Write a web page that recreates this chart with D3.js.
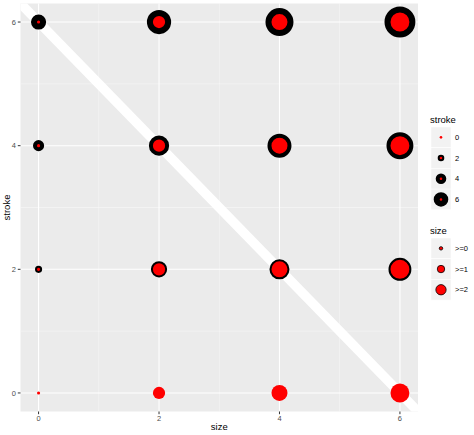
<!DOCTYPE html>
<html>
<head>
<meta charset="utf-8">
<script src="https://cdn.jsdelivr.net/npm/d3@7"></script>
<style>
  body { margin: 0; background: #fff; }
  text { font-family: "Liberation Sans", Arial, sans-serif; }
</style>
</head>
<body>
<svg id="chart" width="474" height="435"></svg>
<script>
// values on each axis (size on x, stroke on y)
var sizes = [0, 2, 4, 6];
var strokes = [0, 2, 4, 6];
var ticks = [0, 2, 4, 6];
// legends
var strokeKeys = [0, 2, 4, 6];
var sizeKeyLabels = [">=0", ">=1", ">=2"];
var sizeKeyValues = [0.05, 1.1, 2.7];
// reference line: y = 6 - x
var lineIntercept = 6, lineSlope = -1;

var svg = d3.select("#chart");
var W = 474, H = 435;
var panel = {left: 20.5, right: 418, top: 3.5, bottom: 411.5};

var x = d3.scaleLinear().domain([-0.3, 6.3]).range([panel.left, panel.right]);
var y = d3.scaleLinear().domain([-0.3, 6.3]).range([panel.bottom, panel.top]);
// area scale like ggplot scale_size (range 1..6), then to pixels
var sizeScale = d3.scaleSqrt().domain([0, 6]).range([1, 6]);
var px = 3.15;

svg.append("defs").append("clipPath").attr("id", "clip")
  .append("rect")
  .attr("x", panel.left).attr("y", panel.top)
  .attr("width", panel.right - panel.left).attr("height", panel.bottom - panel.top);

// panel background
svg.append("rect")
  .attr("x", panel.left).attr("y", panel.top)
  .attr("width", panel.right - panel.left).attr("height", panel.bottom - panel.top)
  .attr("fill", "#ebebeb");

var grid = svg.append("g");
var minor = [1, 3, 5];
grid.selectAll(".vmin").data(minor).enter().append("line")
  .attr("x1", d => x(d)).attr("x2", d => x(d))
  .attr("y1", panel.top).attr("y2", panel.bottom)
  .attr("stroke", "#fff").attr("stroke-width", 0.5).attr("opacity", 0.8);
grid.selectAll(".hmin").data(minor).enter().append("line")
  .attr("y1", d => y(d)).attr("y2", d => y(d))
  .attr("x1", panel.left).attr("x2", panel.right)
  .attr("stroke", "#fff").attr("stroke-width", 0.5).attr("opacity", 0.8);
grid.selectAll(".vmaj").data(ticks).enter().append("line")
  .attr("x1", d => x(d)).attr("x2", d => x(d))
  .attr("y1", panel.top).attr("y2", panel.bottom)
  .attr("stroke", "#fff").attr("stroke-width", 1.1);
grid.selectAll(".hmaj").data(ticks).enter().append("line")
  .attr("y1", d => y(d)).attr("y2", d => y(d))
  .attr("x1", panel.left).attr("x2", panel.right)
  .attr("stroke", "#fff").attr("stroke-width", 1.1);

// abline
svg.append("line")
  .attr("clip-path", "url(#clip)")
  .attr("x1", x(-0.5)).attr("y1", y(lineIntercept + lineSlope * -0.5))
  .attr("x2", x(6.5)).attr("y2", y(lineIntercept + lineSlope * 6.5))
  .attr("stroke", "#fff").attr("stroke-width", 9.5);

// points
var pts = d3.cross(sizes, strokes, function(s, k) { return {size: s, stroke: k}; });
svg.append("g").selectAll("circle").data(pts).enter().append("circle")
  .attr("cx", d => x(d.size))
  .attr("cy", d => y(d.stroke))
  .attr("r", d => sizeScale(d.size) * px / 2 + d.stroke / 2)
  .attr("fill", "#ff0000")
  .attr("stroke", d => d.stroke > 0 ? "#000" : "none")
  .attr("stroke-width", d => d.stroke);

// axes
var axisCol = "#4d4d4d";
var xa = svg.append("g");
xa.selectAll("line").data(ticks).enter().append("line")
  .attr("x1", d => x(d)).attr("x2", d => x(d))
  .attr("y1", panel.bottom).attr("y2", panel.bottom + 2.7)
  .attr("stroke", "#333").attr("stroke-width", 1);
xa.selectAll("text").data(ticks).enter().append("text")
  .attr("x", d => x(d)).attr("y", panel.bottom + 9.5)
  .attr("text-anchor", "middle").attr("font-size", 7.5).attr("fill", axisCol)
  .text(d => d);
var ya = svg.append("g");
ya.selectAll("line").data(ticks).enter().append("line")
  .attr("y1", d => y(d)).attr("y2", d => y(d))
  .attr("x1", panel.left - 2.7).attr("x2", panel.left)
  .attr("stroke", "#333").attr("stroke-width", 1);
ya.selectAll("text").data(ticks).enter().append("text")
  .attr("x", panel.left - 4.5).attr("y", d => y(d) + 2.7)
  .attr("text-anchor", "end").attr("font-size", 7.5).attr("fill", axisCol)
  .text(d => d);

svg.append("text")
  .attr("x", (panel.left + panel.right) / 2).attr("y", 430)
  .attr("text-anchor", "middle").attr("font-size", 9.5).attr("fill", "#000")
  .text("size");
svg.append("text")
  .attr("transform", "translate(10," + ((panel.top + panel.bottom) / 2) + ") rotate(-90)")
  .attr("text-anchor", "middle").attr("font-size", 9.5).attr("fill", "#000")
  .text("stroke");

// legends
var keyX = 431, keyW = 20, keyH = 20.7;
var lg1 = svg.append("g");
lg1.append("text").attr("x", 430).attr("y", 123).attr("font-size", 9.5).text("stroke");
var k1 = lg1.selectAll("g").data(strokeKeys).enter().append("g")
  .attr("transform", (d, i) => "translate(" + keyX + "," + (127 + i * keyH) + ")");
k1.append("rect").attr("width", keyW).attr("height", keyH).attr("fill", "#f2f2f2")
  .attr("stroke", "#fff").attr("stroke-width", 0.5);
k1.append("circle")
  .attr("cx", keyW / 2).attr("cy", keyH / 2)
  .attr("r", d => 1 + d / 2 + 0.3)
  .attr("fill", "#ff0000")
  .attr("stroke", d => d > 0 ? "#000" : "none")
  .attr("stroke-width", d => d);
k1.append("text").attr("x", keyW + 4).attr("y", keyH / 2 + 2.7)
  .attr("font-size", 7.5).attr("fill", "#000").text(d => d);

var lg2 = svg.append("g");
lg2.append("text").attr("x", 430).attr("y", 234).attr("font-size", 9.5).text("size");
var k2 = lg2.selectAll("g").data(sizeKeyLabels).enter().append("g")
  .attr("transform", (d, i) => "translate(" + keyX + "," + (238 + i * keyH) + ")");
k2.append("rect").attr("width", keyW).attr("height", keyH).attr("fill", "#f2f2f2")
  .attr("stroke", "#fff").attr("stroke-width", 0.5);
k2.append("circle")
  .attr("cx", keyW / 2).attr("cy", keyH / 2)
  .attr("r", (d, i) => sizeScale(sizeKeyValues[i]) * px / 2 * 0.75)
  .attr("fill", "#ff0000")
  .attr("stroke", "#000").attr("stroke-width", 0.8);
k2.append("text").attr("x", keyW + 4).attr("y", keyH / 2 + 2.7)
  .attr("font-size", 7.5).attr("fill", "#000").text(d => d);
</script>
</body>
</html>
